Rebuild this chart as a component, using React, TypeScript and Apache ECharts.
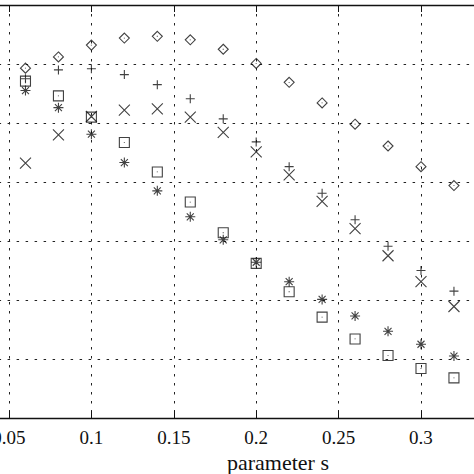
import React, { useEffect, useRef } from "react";
import * as echarts from "echarts";

// parameter s (shared by every series)
const sValues = [0.06, 0.08, 0.1, 0.12, 0.14, 0.16, 0.18, 0.2, 0.22, 0.24, 0.26, 0.28, 0.3, 0.32];

// measured quantities for the five cases
const diamondValues = [0.593, 0.612, 0.632, 0.644, 0.647, 0.641, 0.625, 0.601, 0.569, 0.534, 0.498, 0.461, 0.426, 0.394];
const plusValues = [0.575, 0.59, 0.592, 0.582, 0.565, 0.541, 0.507, 0.468, 0.426, 0.381, 0.336, 0.291, 0.25, 0.215];
const crossValues = [0.432, 0.48, 0.511, 0.522, 0.524, 0.51, 0.484, 0.451, 0.412, 0.367, 0.321, 0.275, 0.231, 0.189];
const squareValues = [0.571, 0.546, 0.51, 0.467, 0.417, 0.366, 0.314, 0.262, 0.214, 0.171, 0.134, 0.106, 0.084, 0.068];
const starValues = [0.555, 0.526, 0.481, 0.433, 0.385, 0.341, 0.302, 0.264, 0.231, 0.201, 0.173, 0.147, 0.125, 0.105];

const X_MIN = 0;
const X_MAX = 0.4264;
const X_STEP = 0.05;
const Y_MIN = 0;
const Y_MAX = 0.7;
const Y_STEP = 0.1;

const FONT = "'Liberation Serif', 'DejaVu Serif', serif";
const INK = "#111";

const SYM_DIAMOND = "path://M5 0L10 5L5 10L0 5Z M5 4.6L5 5.4";
const SYM_SQUARE = "path://M0 0H10V10H0Z M5 4.6V5.4";
const SYM_PLUS = "path://M0 5H10 M5 0V10";
const SYM_CROSS = "path://M0 0L10 10 M10 0L0 10";
const SYM_STAR = "path://M0 5H10 M5 0V10 M1.5 1.5L8.5 8.5 M8.5 1.5L1.5 8.5";

const pairs = (ys: number[]) => sValues.map((s, i) => [s, ys[i]]);

const markerSeries = (name: string, ys: number[], symbol: string, size: number) => ({
  type: "scatter",
  name,
  data: pairs(ys),
  symbol,
  symbolSize: size,
  itemStyle: { color: "transparent", borderColor: INK, borderWidth: 1.1 },
  emphasis: { disabled: true },
});

export default function App() {
  const ref = useRef<HTMLDivElement>(null);

  useEffect(() => {
    if (!ref.current) return;
    const chart = echarts.init(ref.current, null, { renderer: "svg" });
    const dotted = { color: "#222", width: 1, type: [2.5, 6.5] };
    chart.setOption({
      animation: false,
      backgroundColor: "#fff",
      grid: {
        left: -73.4,
        right: -155.3,
        top: 5,
        bottom: 56,
        containLabel: false,
        outerBoundsMode: "none",
      },
      xAxis: [
        {
          type: "value",
          position: "bottom",
          min: X_MIN,
          max: X_MAX,
          interval: X_STEP,
          name: "parameter s",
          nameLocation: "middle",
          nameGap: 30,
          nameTextStyle: { fontFamily: FONT, fontSize: 22, color: INK },
          axisLine: { show: true, lineStyle: { color: INK, width: 1.3 } },
          axisTick: { show: true, inside: true, length: 7, lineStyle: { color: INK, width: 1 } },
          axisLabel: {
            fontFamily: FONT,
            fontSize: 19,
            color: INK,
            margin: 10,
            showMaxLabel: false,
            formatter: (v: number) => String(Math.round(v * 100) / 100),
          },
          splitLine: { show: true, lineStyle: dotted },
        },
        {
          type: "value",
          position: "top",
          min: X_MIN,
          max: X_MAX,
          interval: X_STEP,
          axisLine: { show: true, lineStyle: { color: INK, width: 1.3 } },
          axisTick: { show: true, inside: true, length: 7, lineStyle: { color: INK, width: 1 } },
          axisLabel: { show: false },
          splitLine: { show: false },
        },
      ],
      yAxis: {
        type: "value",
        min: Y_MIN,
        max: Y_MAX,
        interval: Y_STEP,
        axisLine: { show: false },
        axisTick: { show: false },
        axisLabel: { show: false },
        splitLine: { show: true, lineStyle: dotted },
      },
      series: [
        markerSeries("diamond", diamondValues, SYM_DIAMOND, 10),
        markerSeries("plus", plusValues, SYM_PLUS, 9),
        markerSeries("cross", crossValues, SYM_CROSS, 11),
        markerSeries("square", squareValues, SYM_SQUARE, 10),
        markerSeries("star", starValues, SYM_STAR, 10),
      ],
    });
    return () => chart.dispose();
  }, []);

  return (
    <div
      ref={ref}
      style={{ position: "absolute", left: 0, top: 0, width: 474, height: 474 }}
    />
  );
}
